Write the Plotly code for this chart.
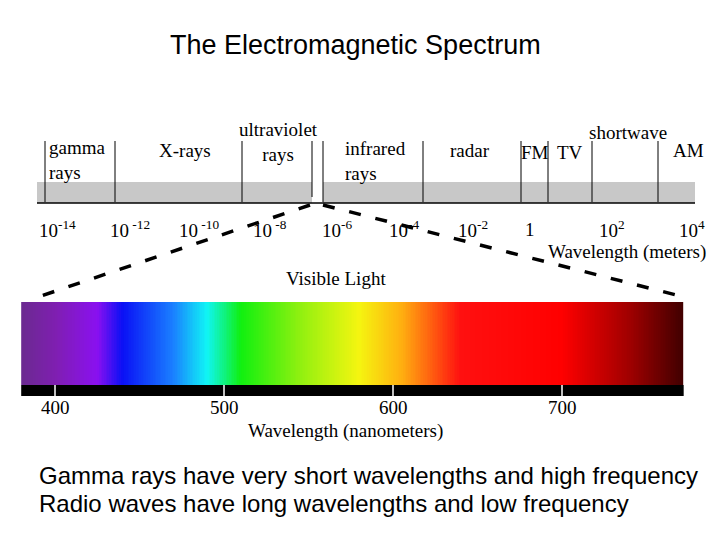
import plotly.graph_objects as go
import numpy as np

# ---- data ----
band_names = ["gamma<br>rays", "X-rays", "ultraviolet<br>rays", "infrared<br>rays", "radar", "FM", "TV", "shortwave", "AM"]
band_x = [47, 185, 278, 343, 470, 535, 570, 628, 688]
band_y = [160, 150, 142, 161, 150, 152, 152, 132, 150]
band_anchor = ["left", "center", "center", "left", "center", "center", "center", "center", "center"]
divider_x = [45, 115, 242, 423, 521, 548, 592, 658]
exp_labels = ["10<sup>-14</sup>", "10<sup> -12</sup>", "10<sup> -10</sup>", "10<sup> -8</sup>", "10<sup>-6</sup>",
              "10<sup>-4</sup>", "10<sup>-2</sup>", "1", "10<sup>2</sup>", "10<sup>4</sup>"]
exp_x = [57, 130, 199, 270, 337, 404, 473, 530, 612, 692]
nm_ticks = [400, 500, 600, 700]
nm_min, nm_max = 380, 772
color_nm = [380, 400, 425, 440, 470, 490, 510, 545, 580, 605, 640, 700, 740, 772]
color_hex = ["#6a2a90", "#7f1fb0", "#8a10f0", "#0a10f5", "#1a80ff", "#10f5f5", "#10f010", "#90f010",
             "#f5f510", "#ffb010", "#ff1010", "#ff0000", "#a00000", "#400000"]

px_per_nm = 1.69
nm_at_px0 = 400 - 55 / px_per_nm

fig = go.Figure()
fig.add_trace(go.Scatter(x=[0, 720], y=[0, 540], mode="markers", marker=dict(opacity=0),
                         xaxis="x", yaxis="y", hoverinfo="skip"))
edges = np.arange(nm_min, nm_max + 1, 1)
centers = (edges[:-1] + edges[1:]) / 2
cs = [[(n - nm_min) / (nm_max - nm_min), c] for n, c in zip(color_nm, color_hex)]
fig.add_trace(go.Heatmap(x=edges, y=[302, 385], z=[centers], colorscale=cs, showscale=False,
                         zmin=nm_min, zmax=nm_max, xaxis="x2", yaxis="y", hoverinfo="skip"))

shapes = []
shapes.append(dict(type="rect", xref="x", x0=37, x1=312, y0=182, y1=203, fillcolor="#c8c8c8", line_width=0, layer="below"))
shapes.append(dict(type="rect", xref="x", x0=323, x1=695, y0=182, y1=203, fillcolor="#c8c8c8", line_width=0, layer="below"))
shapes.append(dict(type="line", xref="x", x0=37, x1=695, y0=203, y1=203, line=dict(color="black", width=1.5)))
for x in divider_x:
    shapes.append(dict(type="line", xref="x", x0=x, x1=x, y0=141, y1=202, line=dict(color="black", width=1)))
shapes.append(dict(type="line", xref="x", x0=312, x1=312, y0=141, y1=197, line=dict(color="black", width=1)))
shapes.append(dict(type="line", xref="x", x0=323, x1=323, y0=141, y1=202, line=dict(color="black", width=1)))
shapes.append(dict(type="line", xref="x", x0=310, y0=205, x1=35, y1=298, line=dict(color="black", width=3.5, dash="12px,15px")))
shapes.append(dict(type="line", xref="x", x0=323, y0=205, x1=688, y1=298, line=dict(color="black", width=3.5, dash="12px,15px")))
shapes.append(dict(type="rect", xref="x2", x0=nm_min, x1=nm_max, y0=385, y1=396, fillcolor="black", line_width=0))
for t in nm_ticks:
    shapes.append(dict(type="line", xref="x2", x0=t, x1=t, y0=385, y1=396, line=dict(color="white", width=1.5)))
for s in shapes:
    s["yref"] = "y"

ann = []
serif = "Liberation Serif"
FS = 19
def A(**k):
    k.setdefault("xref", "x"); k["yref"] = "y"; k["showarrow"] = False
    ann.append(k)
for n, x, y, a in zip(band_names, band_x, band_y, band_anchor):
    A(x=x, y=y, text=n, xanchor=a, yanchor="middle", font=dict(family=serif, size=FS, color="black"), align=a)
for t, x in zip(exp_labels, exp_x):
    A(x=x, y=229, text=t, font=dict(family=serif, size=FS, color="black"))
A(x=627, y=252, text="Wavelength (meters)", font=dict(family=serif, size=FS, color="black"))
A(x=336, y=278, text="Visible Light", font=dict(family=serif, size=FS, color="black"))
for t in nm_ticks:
    A(xref="x2", x=t, y=407, text=str(t), font=dict(family=serif, size=FS, color="black"))
A(x=345, y=431, text="Wavelength (nanometers)", font=dict(family=serif, size=FS, color="black"))
A(x=355, y=45, text="The Electromagnetic Spectrum", font=dict(family="Liberation Sans", size=27, color="black"))
A(x=37, y=475, text="Gamma rays have very short wavelengths and high frequency", xanchor="left",
  font=dict(family="Liberation Sans", size=24, color="black"))
A(x=37, y=503, text="Radio waves have long wavelengths and low frequency", xanchor="left",
  font=dict(family="Liberation Sans", size=24, color="black"))

fig.update_layout(
    width=720, height=540, margin=dict(l=0, r=0, t=0, b=0),
    paper_bgcolor="white", plot_bgcolor="white",
    xaxis=dict(range=[0, 720], autorange=False, visible=False, domain=[0, 1]),
    xaxis2=dict(range=[nm_at_px0, nm_at_px0 + 720 / px_per_nm], autorange=False, overlaying="x",
                visible=False, anchor="y"),
    yaxis=dict(range=[540, 0], autorange=False, visible=False, domain=[0, 1]),
    shapes=shapes, annotations=ann, showlegend=False,
)
fig.write_html("out.html", config={"displayModeBar": False})
with open("out.html") as f:
    html = f.read()
html = html.replace("<head>", "<head><style>html,body{margin:0;padding:0;overflow:hidden;}</style>", 1)
with open("out.html", "w") as f:
    f.write(html)
